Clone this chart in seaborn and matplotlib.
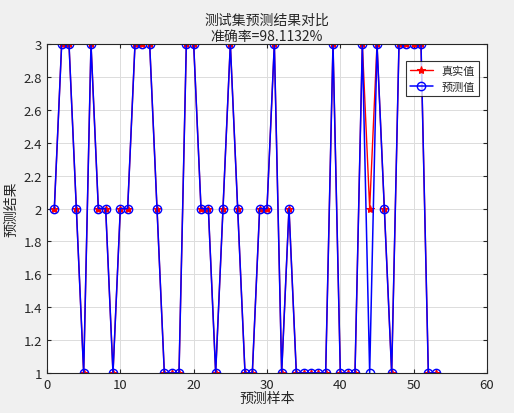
import matplotlib
matplotlib.use("Agg")
import matplotlib.pyplot as plt
import seaborn as sns
import numpy as np
import pandas as pd

true_vals = [2,3,3,2,1,3,2,2,1,2,2,3,3,3,2,1,1,1,3,3,2,2,1,2,3,2,1,1,2,2,3,1,2,1,1,1,1,1,3,1,1,1,3,2,3,2,1,3,3,3,3,1,1]
pred_vals = [2,3,3,2,1,3,2,2,1,2,2,3,3,3,2,1,1,1,3,3,2,2,1,2,3,2,1,1,2,2,3,1,2,1,1,1,1,1,3,1,1,1,3,1,3,2,1,3,3,3,3,1,1]
idx = list(range(1, len(true_vals) + 1))
df = pd.DataFrame({"idx": idx, "true": true_vals, "pred": pred_vals})

sns.set_style("whitegrid")
plt.rcParams['font.family'] = ['Noto Sans CJK SC', 'DejaVu Sans']
fig = plt.figure(figsize=(5.14, 4.14), dpi=100, facecolor='#f0f0f0')
ax = fig.add_axes([47/514, 40/414, 440/514, 329/414])
ax.set_facecolor('white')
sns.lineplot(data=df, x="idx", y="true", ax=ax, color='red', marker='*', markersize=6,
             markeredgecolor='red', linewidth=1, label='真实值')
sns.lineplot(data=df, x="idx", y="pred", ax=ax, color='blue', marker='o', markersize=6,
             markerfacecolor='none', markeredgecolor='blue', markeredgewidth=1, linewidth=1.1, label='预测值')
ax.set_xlim(0, 60)
ax.set_ylim(1, 3)
ax.set_xticks(range(0, 61, 10))
ax.set_yticks(np.arange(1, 3.01, 0.2))
ax.set_yticklabels([f"{v:g}" for v in np.arange(1, 3.01, 0.2).round(1)])
ax.tick_params(labelsize=9.5, length=3, direction='in', left=True, bottom=True, top=True, right=True)
ax.grid(True, color='#dcdcdc', linewidth=0.7)
for s in ax.spines.values():
    s.set_color('#262626'); s.set_linewidth(0.8)
ax.set_xlabel('预测样本', fontsize=10, labelpad=0)
ax.set_ylabel('预测结果', fontsize=10)
ax.set_title('测试集预测结果对比\n准确率=98.1132%', fontsize=10, pad=3)
leg = ax.legend(loc='upper right', fontsize=8, frameon=True, fancybox=False, edgecolor='black',
                bbox_to_anchor=(0.995, 0.965))
leg.get_frame().set_linewidth(0.8)
fig.savefig("out.png", dpi=100, facecolor=fig.get_facecolor())
